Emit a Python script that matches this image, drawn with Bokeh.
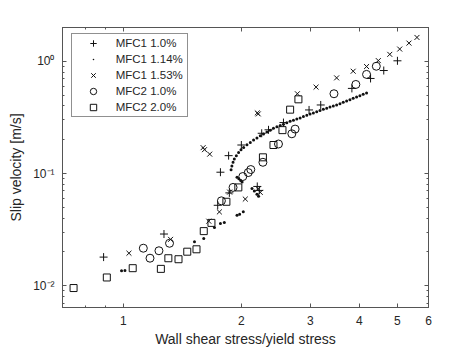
from bokeh.plotting import figure
from bokeh.models import (LogAxis, FixedTicker, Legend, LegendItem,
                          CustomJSTickFormatter, Range1d)
from bokeh.embed import file_html
from bokeh.resources import INLINE

# ---------------- data ----------------
mfc1_10_x = [0.891, 1.270, 1.741, 1.864, 1.769, 1.856, 2.000, 2.196, 2.222, 2.254,
             2.346, 2.561, 2.976, 3.187, 3.827, 4.270, 4.614, 5.000]
mfc1_10_y = [0.0180, 0.0289, 0.0521, 0.0672, 0.1027, 0.1443, 0.1795, 0.0767, 0.0707, 0.2283,
             0.2451, 0.2844, 0.3685, 0.408, 0.5734, 0.7029, 0.8274, 1.010]

mfc1_114_x = [0.99, 1.01, 1.519, 1.604, 1.708, 1.769, 1.810, 1.950, 1.980, 2.023,
              2.129, 2.158, 2.192, 2.213, 1.950, 1.971, 1.992, 2.009,
              1.883, 1.892, 1.905, 1.919, 1.942, 1.968, 1.996, 2.027, 2.067, 2.108,
              2.149, 2.192, 2.235, 2.278, 2.324, 2.369, 2.415, 2.464, 2.512, 2.561,
              2.612, 2.663, 2.715, 2.770, 2.824, 2.879, 2.937, 2.994, 3.052, 3.113,
              3.174, 3.236, 3.301, 3.365, 3.431, 3.499, 3.568, 3.637, 3.710, 3.783,
              3.856, 3.934, 4.011, 4.089, 4.171]
mfc1_114_y = [0.0136, 0.0137, 0.0247, 0.0264, 0.0331, 0.0359, 0.0366, 0.0425, 0.0434, 0.0456,
              0.0737, 0.0700, 0.0652, 0.0626, 0.0928, 0.0898, 0.0867, 0.0841,
              0.1078, 0.1165, 0.1259, 0.1349, 0.1443, 0.1543, 0.1631, 0.1709, 0.1805, 0.1892,
              0.1987, 0.2070, 0.2169, 0.2246, 0.2339, 0.2435, 0.2527, 0.2606, 0.2676, 0.2754,
              0.2828, 0.2915, 0.2987, 0.3067, 0.3130, 0.3215, 0.3308, 0.3396, 0.3466, 0.3559,
              0.3647, 0.3738, 0.3815, 0.3917, 0.3998, 0.4080, 0.4190, 0.4311, 0.4426, 0.4545,
              0.4677, 0.4802, 0.4931, 0.5074, 0.5210]

mfc1_153_x = [1.034, 1.320, 1.652, 1.758, 1.867, 2.047, 1.598, 1.611, 1.661, 2.196,
              2.209, 2.209, 2.235, 2.779, 3.101, 3.499, 3.856, 4.171, 4.469, 4.780,
              5.067, 5.350, 5.607]
mfc1_153_y = [0.0195, 0.0259, 0.0376, 0.0455, 0.0683, 0.0592, 0.170, 0.1631, 0.1488, 0.3466,
              0.3396, 0.0729, 0.0679, 0.5137, 0.5888, 0.7115, 0.8157, 0.8978, 1.014, 1.153,
              1.285, 1.452, 1.631]

mfc2_10_x = [1.125, 1.170, 1.233, 1.312, 1.779, 1.905, 2.017, 2.083, 2.114, 2.270,
             2.487, 2.690, 2.742, 3.445, 3.917, 4.171, 4.417]
mfc2_10_y = [0.0216, 0.0176, 0.0205, 0.0239, 0.0571, 0.0752, 0.0940, 0.1020, 0.1085, 0.1259,
             0.1832, 0.2259, 0.2487, 0.5137, 0.6218, 0.7640, 0.9032]

mfc2_20_x = [0.747, 0.908, 1.057, 1.247, 1.303, 1.383, 1.456, 1.537, 1.604, 1.678,
             1.832, 1.965, 2.270, 2.415, 2.546, 2.663, 2.796]
mfc2_20_y = [0.00954, 0.01185, 0.01434, 0.01414, 0.01758, 0.01723, 0.02011, 0.02113, 0.03067, 0.03632,
             0.0560, 0.0752, 0.1394, 0.1795, 0.2435, 0.3707, 0.4582]

legend_labels = ["MFC1 1.0%", "MFC1 1.14%", "MFC1 1.53%", "MFC2 1.0%", "MFC2 2.0%"]

x_major = [1, 2, 3, 4, 5, 6]
x_minor = [0.7, 0.8, 0.9]
y_major = [0.01, 0.1, 1]
y_minor = [0.007, 0.008, 0.009, 0.02, 0.03, 0.04, 0.05, 0.06, 0.07, 0.08, 0.09,
           0.2, 0.3, 0.4, 0.5, 0.6, 0.7, 0.8, 0.9, 2]

x_label = "Wall shear stress/yield stress"
y_label = "Slip velocity [m/s]"

# ---------------- style ----------------
FONT = "Liberation Sans"
AX = "#555555"
TXT = "#262626"
MK = "#111111"

p = figure(width=474, height=349, x_axis_type="log", y_axis_type="log",
           x_range=Range1d(0.7, 6), y_range=Range1d(0.0064, 2),
           output_backend="svg", toolbar_location=None,
           min_border_left=62, min_border_right=46, min_border_top=27, min_border_bottom=41)
p.grid.visible = False
p.outline_line_color = AX
p.outline_line_width = 1
p.background_fill_color = "white"
p.border_fill_color = "white"

xt = FixedTicker(ticks=x_major, minor_ticks=x_minor)
yt = FixedTicker(ticks=y_major, minor_ticks=y_minor)

yfmt = CustomJSTickFormatter(code="""
const e = Math.round(Math.log10(tick));
const sup = {"-2": "\u207b\u00b2", "-1": "\u207b\u00b9", "0": "\u2070"};
return "10" + sup[String(e)];
""")
xfmt = CustomJSTickFormatter(code="return String(Math.round(tick));")
blank = CustomJSTickFormatter(code="return '';")


def style_axis(ax):
    ax.axis_line_color = AX
    ax.major_tick_line_color = AX
    ax.minor_tick_line_color = AX
    ax.major_tick_in = 4
    ax.major_tick_out = 0
    ax.minor_tick_in = 2
    ax.minor_tick_out = 0
    ax.major_label_text_font = FONT
    ax.major_label_text_font_size = "12px"
    ax.major_label_text_color = TXT
    ax.axis_label_text_font = FONT
    ax.axis_label_text_font_size = "14px"
    ax.axis_label_text_font_style = "normal"
    ax.axis_label_text_color = TXT


xa = p.xaxis[0]
xa.ticker = xt
xa.formatter = xfmt
xa.axis_label = x_label
style_axis(xa)
xa.major_label_standoff = 8
xa.axis_label_standoff = 3

ya = p.yaxis[0]
ya.ticker = yt
ya.formatter = yfmt
ya.axis_label = y_label
style_axis(ya)
ya.major_label_standoff = 8
ya.axis_label_standoff = 6

top = LogAxis(ticker=xt, formatter=blank)
style_axis(top)
top.major_label_standoff = 0
p.add_layout(top, "above")

right = LogAxis(ticker=yt, formatter=blank)
style_axis(right)
right.major_label_standoff = 0
p.add_layout(right, "right")

r1 = p.scatter(mfc1_10_x, mfc1_10_y, marker="cross", size=8, line_color=MK, line_width=1)
r2 = p.scatter(mfc1_114_x, mfc1_114_y, marker="dot", size=12, line_color=MK, fill_color=MK, line_width=1)
r3 = p.scatter(mfc1_153_x, mfc1_153_y, marker="x", size=7, line_color=MK, line_width=1)
r4 = p.scatter(mfc2_10_x, mfc2_10_y, marker="circle", size=8, line_color=MK, fill_color=None, line_width=1)
r5 = p.scatter(mfc2_20_x, mfc2_20_y, marker="square", size=7, line_color=MK, fill_color=None, line_width=1)

legend = Legend(items=[LegendItem(label=l, renderers=[r]) for l, r in
                       zip(legend_labels, [r1, r2, r3, r4, r5])],
                location=(8.7, 189.7), margin=0, padding=1, spacing=0,
                glyph_width=40, glyph_height=16, label_standoff=3,
                label_height=16, label_width=70,
                label_text_font=FONT, label_text_font_size="11.5px",
                label_text_color=TXT,
                border_line_color="#222222", border_line_width=1,
                background_fill_color="white", background_fill_alpha=1.0)
p.add_layout(legend)

with open("out.html", "w", encoding="utf-8") as f:
    f.write(file_html(p, INLINE))
